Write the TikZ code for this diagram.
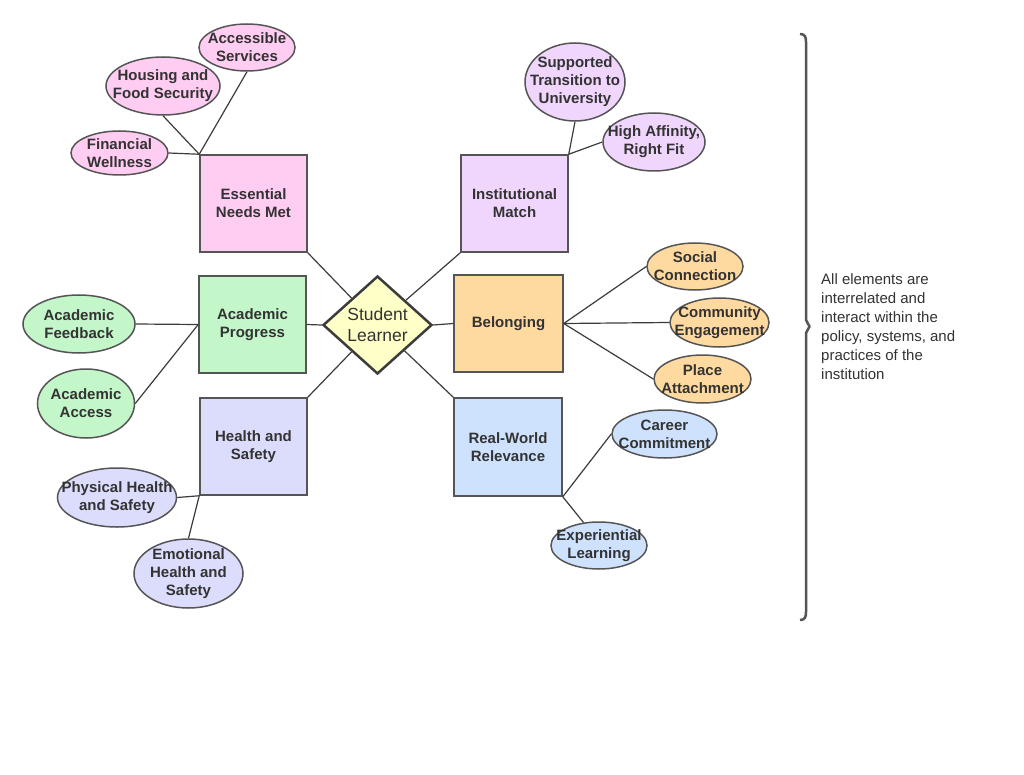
\documentclass[tikz,border=0pt]{standalone}
\usepackage{fontspec}
\setmainfont{Liberation Sans}
\usetikzlibrary{shapes.geometric}
\definecolor{pinkF}{RGB}{255,204,242}
\definecolor{greenF}{RGB}{195,246,201}
\definecolor{lavF}{RGB}{220,220,252}
\definecolor{purpF}{RGB}{240,214,252}
\definecolor{orangeF}{RGB}{255,218,160}
\definecolor{blueF}{RGB}{207,226,253}
\definecolor{yellowF}{RGB}{255,255,200}
\definecolor{edgeC}{RGB}{85,85,85}
\definecolor{lineC}{RGB}{60,60,60}
\definecolor{textC}{RGB}{51,51,51}
\tikzset{
  box/.style={draw=edgeC, line width=1.5pt, rectangle, inner sep=0pt, align=center,
    text=textC, font=\bfseries\fontsize{15}{18}\selectfont},
  oval/.style={draw=edgeC, line width=1.5pt, ellipse, inner sep=0pt},
  lab/.style={align=center, inner sep=0pt, text=textC, font=\bfseries\fontsize{15}{18}\selectfont},
  link/.style={draw=lineC, line width=1.2pt},
}
\begin{document}
\begin{tikzpicture}[x=1pt,y=-1pt]
\useasboundingbox (0,0) rectangle (1024,775);
\fill[white] (0,0) rectangle (1024,775);

% centre
\node[draw=lineC, line width=2.5pt, diamond, fill=yellowF, inner sep=0pt, aspect=1.1,
  minimum width=109pt, minimum height=98pt, align=center, text=textC,
  font=\fontsize{17.5}{21}\selectfont] (dia) at (377.5,325) {Student\\Learner};

% boxes
\node[box, fill=pinkF, minimum width=107pt, minimum height=97pt] (ess) at (253.5,203.5) {Essential\\Needs Met};
\node[box, fill=greenF, minimum width=107pt, minimum height=97pt] (apr) at (252.5,324.5) {Academic\\Progress};
\node[box, fill=lavF, minimum width=107pt, minimum height=97pt] (hea) at (253.5,446.5) {Health and\\Safety};
\node[box, fill=purpF, minimum width=107pt, minimum height=97pt] (ins) at (514.5,203.5) {Institutional\\Match};
\node[box, fill=orangeF, minimum width=109pt, minimum height=97pt] (bel) at (508.5,323.5) {Belonging};
\node[box, fill=blueF, minimum width=108pt, minimum height=98pt] (rwr) at (508,447) {Real-World\\Relevance};

% ellipses
\node[oval, fill=pinkF, minimum width=96pt, minimum height=47pt, label={[lab]center:{Accessible\\Services}}] (acc) at (247,47.5) {};
\node[oval, fill=pinkF, minimum width=114pt, minimum height=58pt, label={[lab]center:{Housing and\\Food Security}}] (hou) at (163,86) {};
\node[oval, fill=pinkF, minimum width=97pt, minimum height=44pt, label={[lab]center:{Financial\\Wellness}}] (fin) at (119.5,153) {};
\node[oval, fill=greenF, minimum width=112pt, minimum height=58pt, label={[lab]center:{Academic\\Feedback}}] (afb) at (79,324) {};
\node[oval, fill=greenF, minimum width=97pt, minimum height=69pt, label={[lab]center:{Academic\\Access}}] (aac) at (86,403.5) {};
\node[oval, fill=lavF, minimum width=119pt, minimum height=59pt, label={[lab]center:{Physical Health\\and Safety}}] (phy) at (117,497.5) {};
\node[oval, fill=lavF, minimum width=109pt, minimum height=69pt, label={[lab]center:{Emotional\\Health and\\Safety}}] (emo) at (188.5,573.5) {};
\node[oval, fill=purpF, minimum width=100pt, minimum height=78pt, label={[lab]center:{Supported\\Transition to\\University}}] (sup) at (575,82) {};
\node[oval, fill=purpF, minimum width=102pt, minimum height=58pt, label={[lab]center:{High Affinity,\\Right Fit}}] (aff) at (654,142) {};
\node[oval, fill=orangeF, minimum width=96pt, minimum height=47pt, label={[lab]center:{Social\\Connection}}] (soc) at (695,266.5) {};
\node[oval, fill=orangeF, minimum width=99pt, minimum height=49pt, label={[lab]center:{Community\\Engagement}}] (com) at (719.5,322.5) {};
\node[oval, fill=orangeF, minimum width=97pt, minimum height=48pt, label={[lab]center:{Place\\Attachment}}] (pla) at (702.5,379) {};
\node[oval, fill=blueF, minimum width=105pt, minimum height=48pt, label={[lab]center:{Career\\Commitment}}] (car) at (664.5,434) {};
\node[oval, fill=blueF, minimum width=96pt, minimum height=47pt, label={[lab]center:{Experiential\\Learning}}] (exp) at (599,545.5) {};

% links to the centre
\path[link] (ess.south east) -- (dia);
\path[link] (apr.east) -- (dia.west);
\path[link] (hea.north east) -- (dia);
\path[link] (ins.south west) -- (dia);
\path[link] (bel.west) -- (dia.east);
\path[link] (rwr.north west) -- (dia);

% links to the ellipses
\path[link] (ess.north west) -- (fin.east);
\path[link] (ess.north west) -- (hou.south);
\path[link] (ess.north west) -- (acc.south);
\path[link] (apr.west) -- (afb.east);
\path[link] (apr.west) -- (aac.east);
\path[link] (hea.south west) -- (phy.east);
\path[link] (hea.south west) -- (emo.north);
\path[link] (ins.north east) -- (sup.south);
\path[link] (ins.north east) -- (aff.west);
\path[link] (bel.east) -- (soc.west);
\path[link] (bel.east) -- (com.west);
\path[link] (bel.east) -- (pla.west);
\path[link] (rwr.south east) -- (car.west);
\path[link] (rwr.south east) -- (exp.124);

% brace
\draw[edgeC, line width=2.5pt, line join=round]
  (800,34) .. controls (805,34) and (806,37) .. (806,42)
  -- (806,320) -- (809.5,326.5) -- (806,333)
  -- (806,612) .. controls (806,617) and (805,620) .. (800,620);

\node[anchor=north west, inner sep=0pt, align=left, text=textC,
  font=\fontsize{15}{19}\selectfont] (note) at (821,273)
  {All elements are\\interrelated and\\interact within the\\policy, systems, and\\practices of the\\institution};
\end{tikzpicture}
\end{document}
